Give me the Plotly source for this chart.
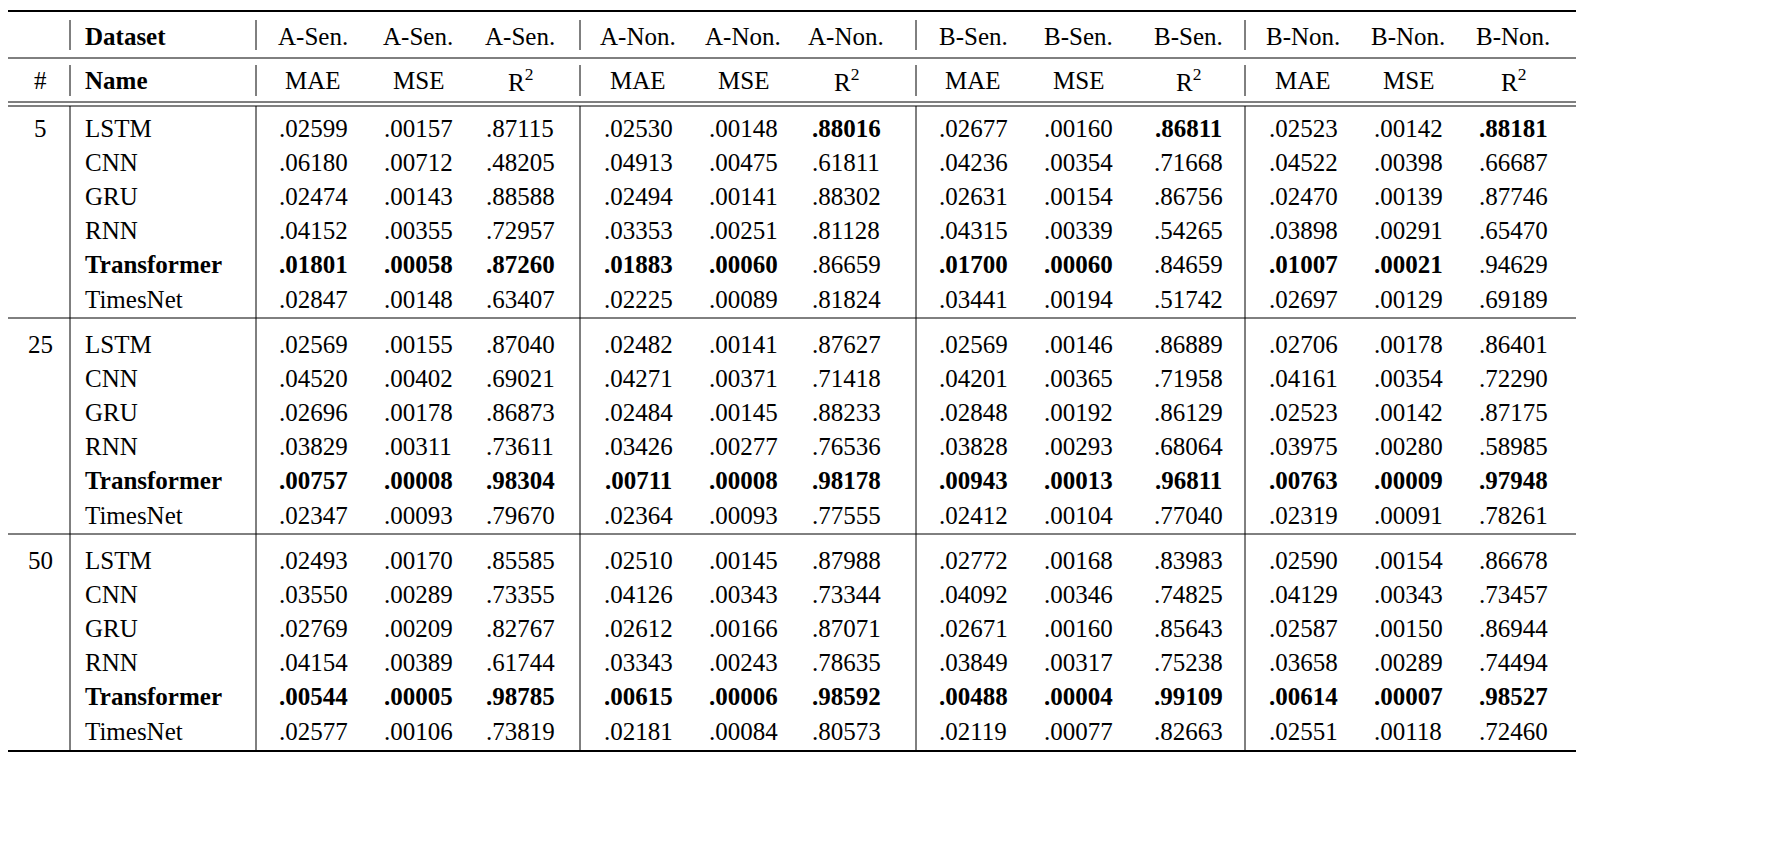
import plotly.graph_objects as go

groups = ["5", "25", "50"]
models = ["LSTM", "CNN", "GRU", "RNN", "Transformer", "TimesNet"]
datasets = ["A-Sen.", "A-Sen.", "A-Sen.", "A-Non.", "A-Non.", "A-Non.",
            "B-Sen.", "B-Sen.", "B-Sen.", "B-Non.", "B-Non.", "B-Non."]
metrics = ["MAE", "MSE", "R<sup>2</sup>"] * 4

g5 = [
    [".02599", ".00157", ".87115", ".02530", ".00148", ".88016", ".02677", ".00160", ".86811", ".02523", ".00142", ".88181"],
    [".06180", ".00712", ".48205", ".04913", ".00475", ".61811", ".04236", ".00354", ".71668", ".04522", ".00398", ".66687"],
    [".02474", ".00143", ".88588", ".02494", ".00141", ".88302", ".02631", ".00154", ".86756", ".02470", ".00139", ".87746"],
    [".04152", ".00355", ".72957", ".03353", ".00251", ".81128", ".04315", ".00339", ".54265", ".03898", ".00291", ".65470"],
    [".01801", ".00058", ".87260", ".01883", ".00060", ".86659", ".01700", ".00060", ".84659", ".01007", ".00021", ".94629"],
    [".02847", ".00148", ".63407", ".02225", ".00089", ".81824", ".03441", ".00194", ".51742", ".02697", ".00129", ".69189"],
]
g25 = [
    [".02569", ".00155", ".87040", ".02482", ".00141", ".87627", ".02569", ".00146", ".86889", ".02706", ".00178", ".86401"],
    [".04520", ".00402", ".69021", ".04271", ".00371", ".71418", ".04201", ".00365", ".71958", ".04161", ".00354", ".72290"],
    [".02696", ".00178", ".86873", ".02484", ".00145", ".88233", ".02848", ".00192", ".86129", ".02523", ".00142", ".87175"],
    [".03829", ".00311", ".73611", ".03426", ".00277", ".76536", ".03828", ".00293", ".68064", ".03975", ".00280", ".58985"],
    [".00757", ".00008", ".98304", ".00711", ".00008", ".98178", ".00943", ".00013", ".96811", ".00763", ".00009", ".97948"],
    [".02347", ".00093", ".79670", ".02364", ".00093", ".77555", ".02412", ".00104", ".77040", ".02319", ".00091", ".78261"],
]
g50 = [
    [".02493", ".00170", ".85585", ".02510", ".00145", ".87988", ".02772", ".00168", ".83983", ".02590", ".00154", ".86678"],
    [".03550", ".00289", ".73355", ".04126", ".00343", ".73344", ".04092", ".00346", ".74825", ".04129", ".00343", ".73457"],
    [".02769", ".00209", ".82767", ".02612", ".00166", ".87071", ".02671", ".00160", ".85643", ".02587", ".00150", ".86944"],
    [".04154", ".00389", ".61744", ".03343", ".00243", ".78635", ".03849", ".00317", ".75238", ".03658", ".00289", ".74494"],
    [".00544", ".00005", ".98785", ".00615", ".00006", ".98592", ".00488", ".00004", ".99109", ".00614", ".00007", ".98527"],
    [".02577", ".00106", ".73819", ".02181", ".00084", ".80573", ".02119", ".00077", ".82663", ".02551", ".00118", ".72460"],
]
bold_cells = {(0, 0, 5), (0, 0, 8), (0, 0, 11),
              (0, 4, 0), (0, 4, 1), (0, 4, 2), (0, 4, 3), (0, 4, 4), (0, 4, 6), (0, 4, 7), (0, 4, 9), (0, 4, 10)}
bold_cells |= {(1, 4, c) for c in range(12)} | {(2, 4, c) for c in range(12)}
values = [g5, g25, g50]

W, H = 1776, 847
FONT = "Liberation Serif"
FS = 25
col_x = [305, 410, 512, 630, 735, 838, 965, 1070, 1180, 1295, 1400, 1505]
vlines = [62, 248, 572, 908, 1237]
hdr_y = [28, 72]
group_y0 = [120, 336, 552]
row_h = 34.2

ann = []
def txt(x, y, s, anchor="center", bold=False):
    ann.append(dict(x=x, y=y, text=("<b>%s</b>" % s) if bold else s, showarrow=False,
                    xanchor=anchor, yanchor="middle", font=dict(family=FONT, size=FS, color="black")))

txt(75, hdr_y[0], "Dataset", "left", True)
txt(32, hdr_y[1], "#")
txt(75, hdr_y[1], "Name", "left", True)
for i, x in enumerate(col_x):
    txt(x, hdr_y[0], datasets[i])
    txt(x, hdr_y[1], metrics[i])

for gi, g in enumerate(groups):
    y0 = group_y0[gi]
    txt(32, y0, g)
    for ri, m in enumerate(models):
        y = y0 + ri * row_h
        txt(75, y, m, "left", m == "Transformer")
        for ci, x in enumerate(col_x):
            txt(x, y, values[gi][ri][ci], bold=(gi, ri, ci) in bold_cells)

shapes = []
def hl(y, w=1.2, x0=0, x1=1568):
    shapes.append(dict(type="line", x0=x0, x1=x1, y0=y, y1=y, line=dict(color="black", width=w)))
def vl(x, y0, y1):
    shapes.append(dict(type="line", x0=x, x1=x, y0=y0, y1=y1, line=dict(color="black", width=1)))

hl(3, 1.8)
hl(50, 1)
hl(94, 1)
hl(98, 1)
hl(310, 1)
hl(526, 1)
hl(743, 1.8)
for x in vlines:
    vl(x, 12, 42)
    vl(x, 57, 88)
    vl(x, 98, 743)

fig = go.Figure(go.Scatter(x=[0, W], y=[0, H], mode="markers", marker=dict(opacity=0), hoverinfo="skip"))
fig.update_layout(width=W, height=H, margin=dict(l=0, r=0, t=0, b=0),
                  plot_bgcolor="white", paper_bgcolor="white", showlegend=False,
                  xaxis=dict(range=[0, W], visible=False, fixedrange=True),
                  yaxis=dict(range=[H, 0], visible=False, fixedrange=True),
                  annotations=ann, shapes=shapes)
fig.write_html("out.html")
